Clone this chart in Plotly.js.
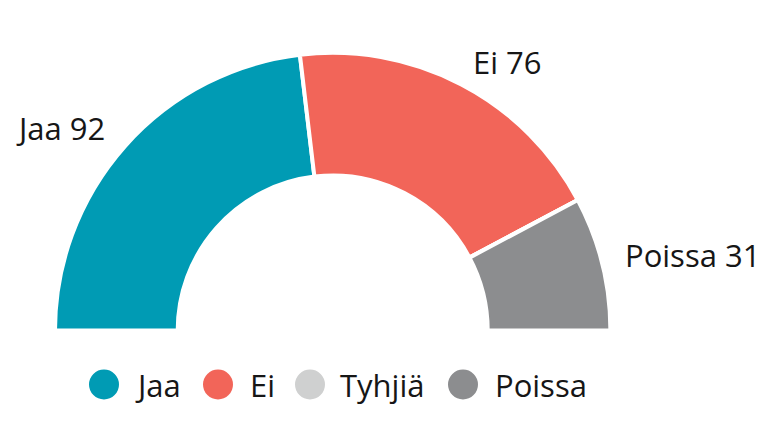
<!DOCTYPE html>
<html>
<head>
<meta charset="utf-8">
<script src="https://cdn.plot.ly/plotly-3.0.1.min.js"></script>
<style>
  html, body { margin: 0; padding: 0; background: #fff; overflow: hidden; }
  #wrap { width: 767px; height: 431px; overflow: hidden; position: relative; }
  #chart { width: 767px; height: 661px; }
</style>
</head>
<body>
<div id="wrap"><div id="chart"></div></div>
<script>
// ---- data ----
const categories = ["Jaa", "Ei", "Tyhjiä", "Poissa"];
const values = [92, 76, 0, 31];
const colors = ["#009bb4", "#f26559", "#cfd0d0", "#8c8d8f"];

// ---- layout constants (pixels) ----
const W = 767, H = 661;
const CX = 332.7, CY = 330.5, R = 277.7, HOLE_R = 155;
const FONT = "'Open Sans', 'Noto Sans', sans-serif";
const TXT = "#161616";
const FS = 31;
const labelPos = [[60, 128], [507, 62], null, [692, 255]];
const legendCircleX = [104, 218, 310, 463];
const legendTextX = [133, 248, 338, 493];
const legendY = 384.5;
const legendR = 15;

const px = x => x / W;
const py = y => 1 - y / H;

const total = values.reduce((a, b) => a + b, 0);

const pie = {
  type: "pie",
  values: values.concat([total]),
  labels: categories.concat(["__hidden"]),
  marker: {
    colors: colors.concat(["rgba(0,0,0,0)"]),
    line: { color: "#ffffff", width: [4, 4, 4, 4, 0] }
  },
  hole: HOLE_R / R,
  sort: false,
  direction: "clockwise",
  rotation: -90,
  textinfo: "none",
  hoverinfo: "skip",
  showlegend: false,
  domain: {
    x: [px(CX - R), px(CX + R)],
    y: [py(CY + R), py(CY - R)]
  }
};

const annotations = [];
const shapes = [];
categories.forEach((c, i) => {
  if (labelPos[i] && values[i] > 0) {
    annotations.push({
      xref: "paper", yref: "paper",
      x: px(labelPos[i][0]), y: py(labelPos[i][1]),
      xanchor: "center", yanchor: "middle",
      text: c + " " + values[i],
      showarrow: false,
      font: { family: FONT, size: FS, color: TXT }
    });
  }
  shapes.push({
    type: "circle", xref: "paper", yref: "paper",
    x0: px(legendCircleX[i] - legendR), x1: px(legendCircleX[i] + legendR),
    y0: py(legendY + legendR), y1: py(legendY - legendR),
    fillcolor: colors[i], line: { width: 0 }
  });
  annotations.push({
    xref: "paper", yref: "paper",
    x: px(legendTextX[i]), y: py(legendY),
    xanchor: "left", yanchor: "middle",
    text: c, showarrow: false,
    font: { family: FONT, size: FS, color: TXT }
  });
});

const layout = {
  width: W, height: H,
  margin: { l: 0, r: 0, t: 0, b: 0 },
  paper_bgcolor: "#ffffff",
  plot_bgcolor: "#ffffff",
  showlegend: false,
  annotations: annotations,
  shapes: shapes
};

Plotly.newPlot("chart", [pie], layout, { displayModeBar: false, staticPlot: true });
</script>
</body>
</html>
